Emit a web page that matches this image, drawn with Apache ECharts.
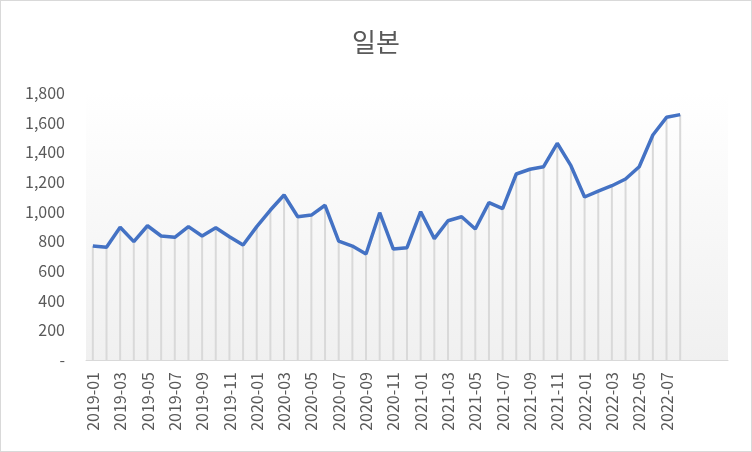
<!DOCTYPE html>
<html>
<head>
<meta charset="utf-8">
<script src="https://cdn.jsdelivr.net/npm/echarts@6/dist/echarts.min.js"></script>
<style>
  html, body { margin: 0; padding: 0; background: #fff; }
  #main { width: 750px; height: 450px; border: 1px solid #d9d9d9; }
</style>
</head>
<body>
<div id="main"></div>
<script>
// 월별 카테고리 (마지막 3칸은 빈 카테고리)
var months = [
  '2019-01','2019-02','2019-03','2019-04','2019-05','2019-06','2019-07','2019-08','2019-09','2019-10','2019-11','2019-12',
  '2020-01','2020-02','2020-03','2020-04','2020-05','2020-06','2020-07','2020-08','2020-09','2020-10','2020-11','2020-12',
  '2021-01','2021-02','2021-03','2021-04','2021-05','2021-06','2021-07','2021-08','2021-09','2021-10','2021-11','2021-12',
  '2022-01','2022-02','2022-03','2022-04','2022-05','2022-06','2022-07','2022-08',
  '', ' ', '  '
];
// 일본 값
var japan = [
  768, 760, 895, 798, 905, 836, 827, 899, 836, 892, 831, 775,
  899, 1011, 1112, 966, 977, 1043, 802, 768, 715, 993, 748, 757,
  1000, 818, 939, 966, 883, 1061, 1020, 1254, 1286, 1303, 1461, 1310,
  1099, 1139, 1175, 1220, 1303, 1517, 1636, 1654
];
var yTicks = [0, 200, 400, 600, 800, 1000, 1200, 1400, 1600, 1800];

var font = '"Noto Sans CJK KR", "Noto Sans", sans-serif';
var chart = echarts.init(document.getElementById('main'));
chart.setOption({
  animation: false,
  title: {
    text: '일본',
    left: 'center',
    top: 23,
    textStyle: { fontFamily: font, fontSize: 26, fontWeight: 'normal', color: '#595959' }
  },
  grid: {
    left: 85, right: 23, top: 92, bottom: 91,
    show: true,
    borderWidth: 0,
    backgroundColor: new echarts.graphic.LinearGradient(0, 0, 0, 1, [
      { offset: 0, color: '#ffffff' },
      { offset: 1, color: '#f0f0f0' }
    ])
  },
  xAxis: {
    type: 'category',
    data: months,
    boundaryGap: true,
    axisLine: { lineStyle: { color: '#d9d9d9', width: 1 } },
    axisTick: { show: false },
    axisLabel: {
      interval: 1,
      rotate: 90,
      margin: 12,
      fontFamily: font,
      fontSize: 16,
      color: '#595959'
    }
  },
  yAxis: {
    type: 'value',
    min: 0,
    max: yTicks[yTicks.length - 1],
    interval: 200,
    splitLine: { show: false },
    axisLine: { show: false },
    axisTick: { show: false },
    axisLabel: {
      margin: 21,
      fontFamily: font,
      fontSize: 16,
      color: '#595959',
      formatter: function (v) { return v === 0 ? '-' : v.toLocaleString('en-US'); }
    }
  },
  series: [
    {
      type: 'bar',
      data: japan,
      barWidth: 2,
      barGap: '-100%',
      itemStyle: { color: '#d9d9d9' },
      silent: true
    },
    {
      type: 'line',
      data: japan,
      showSymbol: false,
      lineStyle: { color: '#4472c4', width: 3.5 },
      z: 5
    }
  ]
});
</script>
</body>
</html>
